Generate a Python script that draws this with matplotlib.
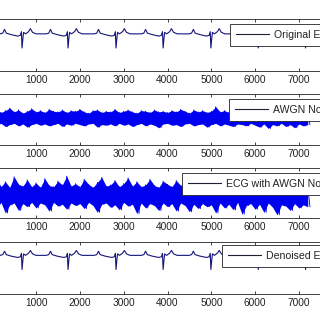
import matplotlib
matplotlib.use('Agg')
import matplotlib.pyplot as plt
import numpy as np

plt.rcParams['font.family'] = ['Liberation Sans', 'DejaVu Sans']

# ---------------- data ----------------
xtick_values = [0, 1000, 2000, 3000, 4000, 5000, 6000, 7000, 8000]
xtick_labels = ['0', '1000', '2000', '3000', '4000', '5000', '6000', '7000', '8000']

legend_labels = ['Original ECG', 'AWGN Noise', 'ECG with AWGN Noise', 'Denoised ECG']

# R-peak sample positions
beat_positions = [681, 1730, 2825, 3900, 4990, 6070, 7150]
signal_end = 7200

# one heartbeat, offsets (samples) relative to R peak and amplitudes
beat_offsets = [-500, -440, -400, -360, -250, -100, -40, -15, 0, 20, 35, 80, 150, 190, 240, 320, 500]
beat_values = [0.0, 0.05, 0.3, 0.05, -0.05, -0.15, -0.1, 0.15, -0.95, -0.3, 0.1, 0.0, 0.15, 0.35, 0.1, 0.0, 0.0]
denoised_values = [0.0, 0.05, 0.28, 0.05, -0.05, -0.14, -0.1, 0.14, -0.95, -0.3, 0.1, 0.0, 0.15, 0.33, 0.1, 0.0, 0.0]

# noise band envelopes sampled every 100 samples (0..7200)
noise_upper = [1.3, 1.6, 1.1, 1.4, 1.8, 1.2, 1.5, 1.0, 1.3, 1.7,
               1.2, 1.4, 1.1, 1.6, 1.3, 1.2, 1.5, 1.1, 1.4, 1.3,
               1.6, 1.2, 1.0, 1.4, 1.5, 1.1, 1.3, 1.2, 1.6, 1.1,
               1.3, 1.5, 1.2, 1.0, 1.4, 1.3, 1.1, 1.5, 1.2, 1.3,
               1.1, 1.4, 1.2, 1.6, 1.3, 1.0, 1.5, 1.2, 1.4, 1.1,
               1.3, 2.0, 1.2, 1.4, 1.1, 1.5, 1.3, 1.2, 1.6, 1.0,
               1.4, 1.2, 1.5, 1.3, 1.1, 1.4, 1.2, 1.6, 1.3, 1.1,
               1.4, 1.2, 1.3]
noise_lower = [-0.7, -0.9, -0.6, -1.1, -0.8, -0.6, -1.0, -0.7, -1.2, -0.8,
               -0.6, -0.9, -0.7, -1.0, -0.8, -0.6, -1.1, -0.7, -0.9, -0.6,
               -0.8, -1.0, -0.7, -0.6, -1.2, -0.8, -0.9, -0.7, -1.0, -0.6,
               -0.9, -0.7, -1.1, -0.8, -0.6, -1.0, -0.7, -0.9, -1.3, -0.7,
               -0.6, -0.9, -0.8, -1.1, -0.7, -0.6, -1.0, -0.8, -0.7, -1.2,
               -0.8, -0.6, -1.0, -0.7, -0.9, -1.1, -0.7, -0.8, -1.0, -0.6,
               -0.9, -1.2, -0.7, -1.4, -0.8, -1.0, -0.6, -1.1, -0.8, -1.3,
               -0.7, -1.0, -0.8]

noisy_upper = [1.2, 2.4, 1.0, 1.8, 0.9, 2.6, 1.4, 1.1, 2.1, 1.0,
               1.6, 0.9, 2.3, 1.2, 1.0, 1.9, 1.3, 2.7, 1.1, 1.5,
               1.0, 2.2, 1.4, 0.9, 1.7, 2.5, 1.1, 1.3, 2.0, 1.0,
               1.5, 2.4, 1.1, 1.8, 1.0, 1.3, 2.2, 1.2, 0.9, 1.9,
               1.4, 1.0, 2.0, 1.2, 1.6, 0.9, 1.8, 1.1, 1.4, 1.0,
               1.7, 1.2, 0.9, 1.5, 1.1, 1.9, 1.0, 1.3, 1.6, 1.1,
               1.4, 1.0, 1.8, 1.2, 0.9, 1.5, 1.1, 1.7, 1.0, 1.3,
               1.6, 1.1, 1.2]
noisy_lower = [-1.8, -2.6, -1.5, -3.2, -1.9, -1.6, -2.8, -1.7, -2.2, -1.5,
               -2.4, -1.6, -1.9, -2.9, -1.5, -2.1, -1.8, -2.6, -1.6, -2.0,
               -1.7, -2.5, -1.5, -2.0, -3.1, -1.8, -1.6, -2.3, -1.9, -2.7,
               -1.5, -2.1, -1.8, -3.3, -1.6, -2.4, -1.7, -2.0, -2.8, -1.6,
               -2.2, -1.7, -2.9, -1.6, -2.0, -3.0, -1.8, -2.5, -1.7, -2.2,
               -1.9, -3.2, -1.6, -2.4, -1.8, -2.7, -1.5, -3.4, -2.0, -1.7,
               -2.6, -1.8, -3.1, -1.6, -2.3, -3.5, -1.9, -2.1, -2.8, -1.7,
               -2.4, -1.9, -2.2]
band_step = 100

# ---------------- helpers ----------------
def build_ecg(values):
    xs, ys = [0], [0.0]
    for r in beat_positions:
        for o, v in zip(beat_offsets, values):
            if r + o <= signal_end:
                xs.append(r + o)
                ys.append(v)
    if xs[-1] < signal_end:
        xs.append(signal_end)
        ys.append(0.0)
    return np.array(xs), np.array(ys)


def zigzag(upper, lower):
    x = np.arange(len(upper)) * band_step
    xz = np.ravel(np.column_stack([x, x + band_step / 2]))
    yz = np.ravel(np.column_stack([upper, lower]))
    return x, xz, yz


W = H = 320.0
fig = plt.figure(figsize=(3.2, 3.2), dpi=100)
fig.patch.set_facecolor('white')

ax_left = -7.8 / W
ax_width = 350.6 / W
panels = [(19, 71), (94, 145), (168, 218), (242, 294)]
legend_pos = [(230, 24), (229, 99), (182, 173), (222, 245)]
ylims = [(-2.5, 1.0), (-4, 4), (-4, 4), (-2.6, 0.9)]

navy = '#15157a'
blue = '#0000f0'

axes = []
for (top, bot) in panels:
    ax = fig.add_axes([ax_left, 1 - bot / H, ax_width, (bot - top) / H])
    axes.append(ax)

# panel 1: original ECG
ex, ey = build_ecg(beat_values)
axes[0].plot(ex, ey, color=navy, lw=0.8, label=legend_labels[0])

# panel 2: noise
xb, xz, yz = zigzag(noise_upper, noise_lower)
axes[1].fill_between(xb, noise_lower, noise_upper, color=blue, lw=0)
axes[1].plot(xz, yz, color=blue, lw=0.6, label=legend_labels[1])

# panel 3: noisy ECG
xb3, xz3, yz3 = zigzag(noisy_upper, noisy_lower)
axes[2].fill_between(xb3, noisy_lower, noisy_upper, color=blue, lw=0)
axes[2].plot(xz3, yz3, color=blue, lw=0.6, label=legend_labels[2])

# panel 4: denoised ECG
dx, dy = build_ecg(denoised_values)
axes[3].plot(dx, dy, color=navy, lw=0.8, label=legend_labels[3])

for i, ax in enumerate(axes):
    ax.set_xlim(0, 8000)
    ax.set_ylim(*ylims[i])
    ax.set_xticks(xtick_values)
    ax.set_xticklabels(xtick_labels)
    ax.set_yticks([])
    ax.tick_params(axis='x', direction='in', top=True, bottom=True, length=2.5,
                   width=0.6, labelsize=7.3, pad=3.0, colors='#222222')
    for s in ax.spines.values():
        s.set_linewidth(0.6)
        s.set_color('#222222')
    lx, ly = legend_pos[i]
    leg = ax.legend(loc='upper left', bbox_to_anchor=(lx / W, 1 - ly / H),
                    bbox_transform=fig.transFigure, borderaxespad=0,
                    fontsize=7.6, handlelength=3.1, handletextpad=0.5,
                    borderpad=0.55, fancybox=False, framealpha=1,
                    edgecolor='#222222')
    leg.get_frame().set_linewidth(0.6)
    for ln in leg.get_lines():
        ln.set_color('#202035')
        ln.set_linewidth(0.8)
    for t in leg.get_texts():
        t.set_color('#222222')

fig.savefig('out.png', dpi=100)
